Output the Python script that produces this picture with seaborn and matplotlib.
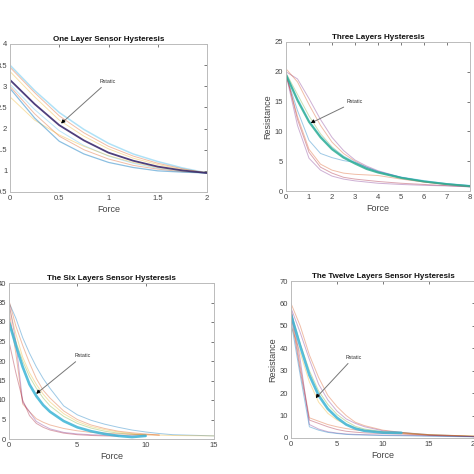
import matplotlib
matplotlib.use("Agg")
import matplotlib.pyplot as plt
import seaborn as sns
import numpy as np

# ---------------- data ----------------
# Panel 1: One Layer
p1_x = [0, 0.25, 0.5, 0.75, 1.0, 1.25, 1.5, 1.75, 2.0]
p1_static = [3.15, 2.58, 2.08, 1.72, 1.43, 1.24, 1.10, 1.01, 0.95]
p1_blue_up = [3.50, 2.90, 2.38, 1.98, 1.65, 1.40, 1.22, 1.07, 0.95]
p1_orange_up = [3.45, 2.85, 2.30, 1.90, 1.58, 1.35, 1.18, 1.05, 0.95]
p1_yellow_up = [3.35, 2.75, 2.20, 1.82, 1.52, 1.30, 1.15, 1.03, 0.96]
p1_cyan = [3.05, 2.45, 1.95, 1.60, 1.35, 1.18, 1.06, 0.99, 0.94]
p1_orange_lo = [3.00, 2.35, 1.82, 1.50, 1.28, 1.13, 1.04, 0.98, 0.95]
p1_yellow_lo = [2.75, 2.20, 1.85, 1.58, 1.36, 1.20, 1.08, 1.00, 0.95]
p1_blue_lo = [2.95, 2.25, 1.70, 1.40, 1.20, 1.08, 1.00, 0.97, 0.95]

# Panel 2: Three Layers
p2_x = [0, 0.5, 1, 1.5, 2, 2.5, 3, 3.5, 4, 5, 6, 7, 8]
p2_static = [19.5, 15.2, 11.6, 9.0, 7.0, 5.6, 4.6, 3.7, 3.1, 2.2, 1.6, 1.15, 0.8]
p2_purple_up = [20.0, 18.8, 15.5, 12.0, 9.0, 6.8, 5.2, 4.2, 3.4, 2.3, 1.6, 1.1, 0.8]
p2_orange_up = [20.5, 18.3, 14.5, 11.0, 8.2, 6.3, 5.0, 4.0, 3.2, 2.2, 1.5, 1.1, 0.8]
p2_green = [19.8, 16.2, 12.6, 9.6, 7.4, 5.8, 4.7, 3.8, 3.1, 2.2, 1.6, 1.15, 0.85]
p2_cyan = [19.6, 15.5, 11.8, 9.2, 7.2, 5.8, 4.8, 3.9, 3.2, 2.3, 1.7, 1.2, 0.9]
p2_blue_lo = [19.5, 13.5, 8.5, 6.3, 5.6, 5.1, 4.8, 4.0, 3.3, 2.3, 1.6, 1.2, 0.9]
p2_orange_lo = [19.5, 12.5, 7.0, 4.5, 3.5, 3.0, 2.8, 2.7, 2.6, 2.0, 1.5, 1.1, 0.8]
p2_purple_lo = [19.5, 11.0, 5.5, 3.5, 2.5, 2.0, 1.7, 1.5, 1.3, 1.1, 0.95, 0.85, 0.7]
p2_red_lo = [19.8, 12.0, 6.5, 4.0, 3.0, 2.3, 2.0, 1.8, 1.6, 1.3, 1.1, 0.9, 0.7]

# Panel 3: Six Layers
p3_x = [0, 0.5, 1, 1.5, 2, 2.5, 3, 4, 5, 6, 7, 8, 9, 10, 11, 12, 15]
p3_static = [30, 24, 18.5, 14, 11, 8.7, 7, 4.6, 3.0, 2.0, 1.3, 0.8, 0.5, 0.8]
p3_blue_up = [35, 31, 26, 22, 18.5, 15.5, 13, 8.5, 6.2, 4.8, 3.8, 3.0, 2.3, 1.8, 1.4, 1.1, 0.8]
p3_orange_up = [35.5, 29, 24, 19.5, 15.5, 12.5, 10.5, 7.2, 5.0, 3.6, 2.7, 2.0, 1.6, 1.3, 1.0]
p3_yellow = [34, 27, 21, 17, 14, 11.5, 9.5, 6.5, 4.5, 3.2, 2.4, 1.8, 1.4, 1.1, 1.0, 0.9, 0.8]
p3_green = [30.5, 25, 20, 16, 13, 10.5, 8.5, 5.8, 4.0, 2.8, 2.0, 1.5, 1.2, 1.0]
p3_orange_lo = [33, 22, 9, 7, 5.2, 4.3, 3.6, 2.7, 2.1, 1.7, 1.5, 1.3, 1.2, 1.1, 1.0]
p3_purple_lo = [35, 25, 9.5, 7, 4.5, 3.5, 2.6, 1.7, 1.3, 1.1, 1.0, 0.9, 0.85, 0.8]
p3_red_lo = [25, 17, 10, 6, 4.0, 3.0, 2.3, 1.5, 1.1, 0.9, 0.8, 0.7]

# Panel 4: Twelve Layers
p4_x = [0, 1, 2, 3, 4, 5, 6, 7, 8, 10, 12, 15, 20]
p4_static = [55, 41, 28, 19, 13, 9, 6, 4.2, 3.2, 2.4, 2.3]
p4_orange_up = [60, 50, 37, 27, 19, 14, 10, 7, 5.5, 3.5, 2.5, 1.2, 0.6]
p4_purple_up = [58, 47, 35, 24, 17, 12, 8.5, 6.5, 5, 3.2, 2.5, 1.5, 0.7]
p4_green = [56, 42, 30, 21, 15, 10.5, 7.5, 5.2, 4, 2.8, 2.4, 1.5, 0.8]
p4_yellow = [50, 38, 25, 16, 11, 8, 6, 4.5, 3.5, 2.5, 2.0, 1.3, 0.8]
p4_orange_lo = [57, 32, 9, 7.5, 6, 5, 4.2, 3.6, 3.2, 2.6, 2.2, 1.5, 0.8]
p4_red_lo = [55, 30, 8, 6.5, 5, 3.8, 3, 2.6, 2.3, 2.0, 1.8, 1.2, 0.6]
p4_purple_lo = [58, 35, 6, 4, 2.8, 2.2, 1.8, 1.6, 1.5, 1.3, 1.2, 1.0, 0.6]
p4_blue_lo = [52, 28, 5, 3.5, 2.5, 2, 1.6, 1.4, 1.3, 1.1, 1.0, 0.8, 0.5]

titles = ["One Layer Sensor Hysteresis", "Three Layers Hysteresis",
          "The Six Layers Sensor Hysteresis", "The Twelve Layers Sensor Hysteresis"]
annot_label = "Rstatic"

# ---------------- style ----------------
sns.set_style("white")
plt.rcParams["font.family"] = ["Liberation Sans", "DejaVu Sans"]

C = {
    "blue": "#0072BD", "orange": "#D95319", "yellow": "#EDB120",
    "purple": "#7E2F8E", "green": "#77AC30", "cyan": "#4DBEEE", "red": "#A2142F",
}

W = H = 474
fig = plt.figure(figsize=(4.74, 4.74), dpi=100)

def box(l, r, t, b):
    return [l / W, (H - b) / H, (r - l) / W, (b - t) / H]

axes = [
    fig.add_axes(box(10, 207, 44, 192)),
    fig.add_axes(box(286, 470, 42, 191)),
    fig.add_axes(box(9, 214, 283, 439)),
    fig.add_axes(box(291, 475, 281, 438)),
]

def line(ax, x, y, color, lw=0.7, alpha=0.38):
    n = len(y)
    sns.lineplot(x=x[:n], y=y, ax=ax, color=color, lw=lw, alpha=alpha)

# panel 1
ax = axes[0]
line(ax, p1_x, p1_blue_up, C["cyan"], 1.1, 0.45)
line(ax, p1_x, p1_orange_up, C["orange"])
line(ax, p1_x, p1_yellow_up, C["yellow"])
line(ax, p1_x, p1_cyan, C["cyan"])
line(ax, p1_x, p1_orange_lo, C["orange"])
line(ax, p1_x, p1_yellow_lo, C["yellow"])
line(ax, p1_x, p1_blue_lo, C["blue"], 0.9, 0.45)
line(ax, p1_x, p1_static, "#3b2a6e", 1.3, 0.9)

# panel 2
ax = axes[1]
line(ax, p2_x, p2_purple_up, C["purple"])
line(ax, p2_x, p2_orange_up, C["orange"])
line(ax, p2_x, p2_green, C["green"])
line(ax, p2_x, p2_cyan, C["cyan"], 1.1, 0.55)
line(ax, p2_x, p2_blue_lo, C["blue"])
line(ax, p2_x, p2_orange_lo, C["orange"])
line(ax, p2_x, p2_purple_lo, C["purple"])
line(ax, p2_x, p2_red_lo, C["red"])
line(ax, p2_x, p2_static, "#2fae94", 1.5, 0.85)

# panel 3
ax = axes[2]
line(ax, p3_x, p3_blue_up, C["blue"])
line(ax, p3_x, p3_orange_up, C["orange"])
line(ax, p3_x, p3_yellow, C["yellow"])
line(ax, p3_x, p3_green, C["green"])
line(ax, p3_x, p3_orange_lo, C["orange"])
line(ax, p3_x, p3_purple_lo, C["purple"])
line(ax, p3_x, p3_red_lo, C["red"])
line(ax, p3_x, p3_static, "#3bb4d6", 1.9, 0.85)

# panel 4
ax = axes[3]
line(ax, p4_x, p4_orange_up, C["orange"])
line(ax, p4_x, p4_purple_up, C["purple"])
line(ax, p4_x, p4_green, C["green"])
line(ax, p4_x, p4_yellow, C["yellow"])
line(ax, p4_x, p4_orange_lo, C["orange"])
line(ax, p4_x, p4_red_lo, C["red"])
line(ax, p4_x, p4_purple_lo, C["purple"])
line(ax, p4_x, p4_blue_lo, C["blue"])
line(ax, p4_x, p4_static, "#3bb4d6", 1.9, 0.85)

limits = [((0, 2), (0.5, 4)), ((0, 8), (0, 25)), ((0, 15), (0, 40)), ((0, 20), (0, 70))]
xticks = [np.arange(0, 2.01, 0.5), np.arange(0, 8.1, 1), np.arange(0, 15.1, 5), np.arange(0, 20.1, 5)]
yticks = [np.arange(0.5, 4.01, 0.5), np.arange(0, 25.1, 5), np.arange(0, 40.1, 5), np.arange(0, 70.1, 10)]
annots = [((0.91, 3.11), (0.52, 2.12)), ((2.65, 15.0), (1.08, 11.4)),
          ((4.8, 21.3), (2.0, 11.6)), ((5.9, 35.8), (2.7, 17.8))]

for i, ax in enumerate(axes):
    ax.set_xlim(*limits[i][0])
    ax.set_ylim(*limits[i][1])
    ax.set_xticks(xticks[i])
    ax.set_yticks(yticks[i])
    ax.set_xticklabels([f"{v:g}" for v in xticks[i]])
    ax.set_yticklabels([f"{v:g}" for v in yticks[i]])
    ax.tick_params(direction="in", length=2, width=0.5, labelsize=5.5,
                   colors="#444444", top=True, right=True, pad=2)
    for s in ax.spines.values():
        s.set_color("#bbbbbb")
        s.set_linewidth(0.7)
    ax.set_title(titles[i], fontsize=5.8, fontweight="bold", pad=2, color="#111111")
    ax.set_xlabel("Force", fontsize=6.5, color="#444444", labelpad=2)
    if i in (1, 3):
        ax.set_ylabel("Resistance", fontsize=6.5, color="#444444", labelpad=2)
    else:
        ax.set_ylabel("")
    (tx, ty), (hx, hy) = annots[i]
    ax.annotate(annot_label, xy=(hx, hy), xytext=(tx, ty), fontsize=3.8, color="#333333",
                ha="left", va="center",
                arrowprops=dict(arrowstyle="-|>", color="#777777", lw=0.7,
                                mutation_scale=5, shrinkA=0, shrinkB=0))
    ax.annotate("", xy=(hx, hy), xytext=(hx + (tx - hx) * 0.08, hy + (ty - hy) * 0.08),
                arrowprops=dict(arrowstyle="-|>", color="black", lw=0.6,
                                mutation_scale=5, shrinkA=0, shrinkB=0))

fig.savefig("out.png", dpi=100)
